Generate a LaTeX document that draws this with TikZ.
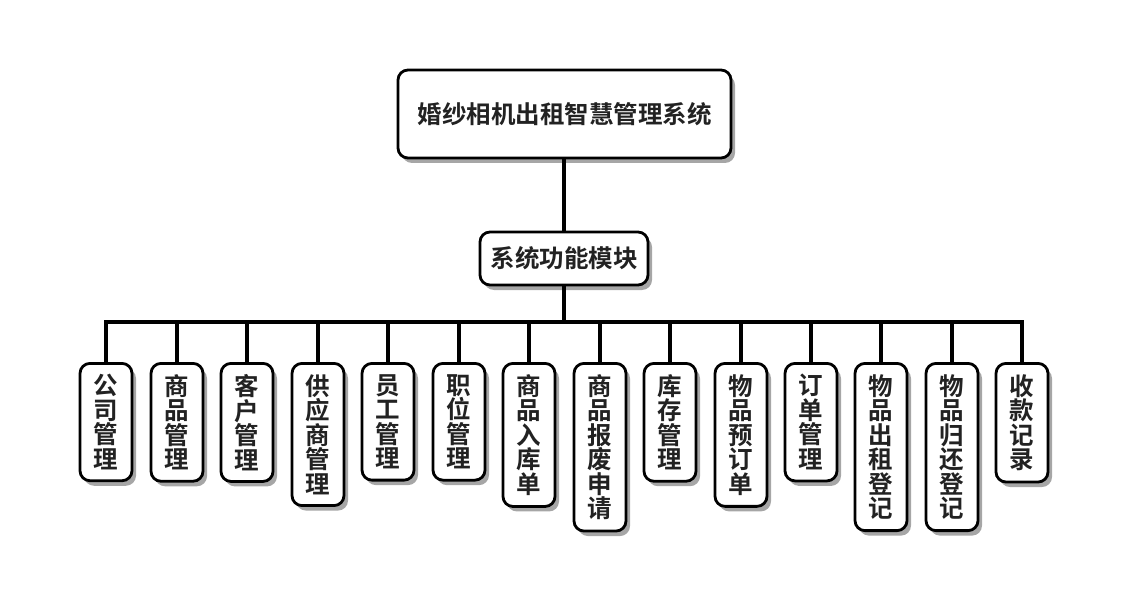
\documentclass[tikz,border=0pt]{standalone}
\usepackage{fontspec}
\setmainfont{Noto Sans CJK SC}
\newfontfamily\cjkb{Noto Sans CJK SC Bold}
\usetikzlibrary{shadows}
\definecolor{txt}{HTML}{222222}
\tikzset{
  x=1pt, y=-1pt,
  boxbase/.style={draw=black, line width=2.8pt, rounded corners=10pt, fill=white,
    text=txt, font=\cjkb\fontsize{24.5}{24.5}\selectfont,
    drop shadow={shadow xshift=4pt, shadow yshift=-5pt, fill=black, opacity=0.35}},
  topbox/.style={boxbase, minimum width=333pt, minimum height=88pt},
  midbox/.style={boxbase, minimum width=168pt, minimum height=53pt},
  leafbox/.style={boxbase, anchor=north, minimum width=52pt, text width=30pt,
    align=center, inner xsep=0pt, inner ysep=11pt},
  wire/.style={line width=4.2pt, draw=black}
}
\begin{document}
\begin{tikzpicture}
\useasboundingbox (0,0) rectangle (1128,607);
\coordinate (bus) at (564,322);
\draw[wire] (564,158) -- (564,232);
\draw[wire] (564,285) -- (bus);
\draw[wire, line cap=rect] (106,322) -- (1022,322);
\foreach \i/\x/\t in {
  1/106/{公\\司\\管\\理},
  2/177/{商\\品\\管\\理},
  3/247/{客\\户\\管\\理},
  4/318/{供\\应\\商\\管\\理},
  5/388/{员\\工\\管\\理},
  6/459/{职\\位\\管\\理},
  7/529/{商\\品\\入\\库\\单},
  8/600/{商\\品\\报\\废\\申\\请},
  9/670/{库\\存\\管\\理},
  10/741/{物\\品\\预\\订\\单},
  11/811/{订\\单\\管\\理},
  12/881/{物\\品\\出\\租\\登\\记},
  13/952/{物\\品\\归\\还\\登\\记},
  14/1022/{收\\款\\记\\录}} {
  \coordinate (j\i) at (\x,322);
  \draw[wire] (j\i) -- (\x,362);
  \node[leafbox] (leaf\i) at (\x,362) {\t};
}
\node[topbox] (top) at (564.5,114) {婚纱相机出租智慧管理系统};
\node[midbox] (mid) at (564,258.5) {系统功能模块};
\end{tikzpicture}
\end{document}
